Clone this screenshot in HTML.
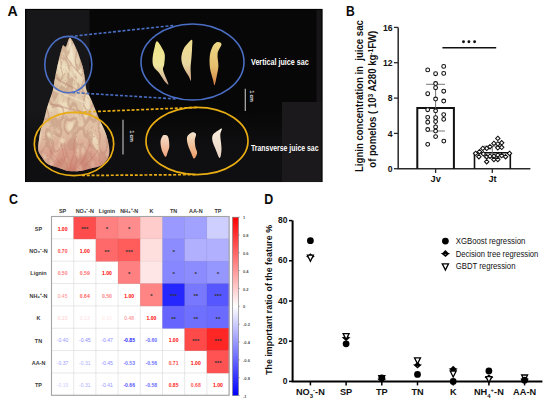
<!DOCTYPE html>
<html><head><meta charset="utf-8"><style>
html,body{margin:0;padding:0;background:#fff;width:550px;height:404px;overflow:hidden}
svg{display:block}
</style></head><body>
<svg width="550" height="404" viewBox="0 0 550 404">
<g id="A">
<defs><filter id="bl1" x="-20%" y="-20%" width="140%" height="140%"><feGaussianBlur stdDeviation="0.6"/></filter><filter id="bl2" x="-20%" y="-20%" width="140%" height="140%"><feGaussianBlur stdDeviation="1.2"/></filter><linearGradient id="pg" x1="0" y1="0" x2="0" y2="1"><stop offset="0" stop-color="#e8d6b6"/><stop offset="0.4" stop-color="#e0caac"/><stop offset="0.7" stop-color="#e0bea4"/><stop offset="1" stop-color="#d49888"/></linearGradient><linearGradient id="bgg" x1="0" y1="0" x2="0" y2="1"><stop offset="0" stop-color="#0f0f11" stop-opacity="0"/><stop offset="0.5" stop-color="#0f0f11" stop-opacity="1"/></linearGradient><clipPath id="pc"><path id="pp" d="M69.0,38.5 C69.9,37.3 70.2,37.6 71.5,39.5 C72.8,41.4 75.0,45.6 76.8,50.0 C78.6,54.4 80.9,60.8 82.3,65.6 C83.7,70.4 84.3,74.9 85.0,79.0 C85.7,83.1 85.4,86.5 86.5,90.0 C87.6,93.5 89.9,96.7 91.4,100.0 C92.9,103.3 94.1,106.7 95.5,110.0 C96.9,113.3 98.1,116.7 99.6,120.0 C101.1,123.3 103.2,126.7 104.5,130.0 C105.8,133.3 106.9,136.7 107.7,140.0 C108.5,143.3 109.4,147.0 109.4,150.0 C109.5,153.0 109.3,155.4 108.0,158.0 C106.7,160.6 104.3,163.8 101.4,165.5 C98.5,167.2 94.1,167.5 90.4,168.4 C86.8,169.3 83.1,170.6 79.5,171.0 C75.9,171.4 71.8,171.4 68.6,171.0 C65.4,170.6 63.9,169.5 60.5,168.4 C57.1,167.3 51.3,166.2 48.2,164.3 C45.1,162.5 43.7,159.7 42.0,157.3 C40.3,154.9 38.7,152.9 38.2,150.0 C37.7,147.1 38.6,143.3 39.0,140.0 C39.4,136.7 39.8,133.3 40.6,130.0 C41.4,126.7 42.9,123.3 43.9,120.0 C44.9,116.7 45.4,113.3 46.4,110.0 C47.4,106.7 48.5,103.3 49.6,100.0 C50.7,96.7 51.9,94.2 52.9,90.0 C53.9,85.8 54.6,79.7 55.6,74.5 C56.6,69.3 57.9,63.6 59.0,59.0 C60.1,54.4 61.5,49.0 62.3,46.7 C63.1,44.4 63.0,45.4 63.6,45.4 C64.2,45.4 65.1,47.6 66.0,46.5 C66.9,45.4 68.1,39.7 69.0,38.5 Z"/></clipPath></defs>
<clipPath id="photo"><rect x="25" y="8.8" width="297.6" height="173.4"/></clipPath>
<g clip-path="url(#photo)">
<rect x="25" y="8.8" width="297.6" height="173.4" fill="#070707"/>
<rect x="25" y="9" width="64.5" height="173" fill="#17171a"/>
<rect x="25" y="110" width="257" height="72" fill="url(#bgg)"/>
<rect x="282" y="102" width="40" height="80" fill="#1b191b"/>
<rect x="316.4" y="9" width="5.4" height="93" fill="#171517"/><path d="M25.7,9 V182 M25,9.3 H322.6 M322.1,9 V182" stroke="#020202" stroke-width="1.2" fill="none"/>
<path d="M69.0,38.5 C69.9,37.3 70.2,37.6 71.5,39.5 C72.8,41.4 75.0,45.6 76.8,50.0 C78.6,54.4 80.9,60.8 82.3,65.6 C83.7,70.4 84.3,74.9 85.0,79.0 C85.7,83.1 85.4,86.5 86.5,90.0 C87.6,93.5 89.9,96.7 91.4,100.0 C92.9,103.3 94.1,106.7 95.5,110.0 C96.9,113.3 98.1,116.7 99.6,120.0 C101.1,123.3 103.2,126.7 104.5,130.0 C105.8,133.3 106.9,136.7 107.7,140.0 C108.5,143.3 109.4,147.0 109.4,150.0 C109.5,153.0 109.3,155.4 108.0,158.0 C106.7,160.6 104.3,163.8 101.4,165.5 C98.5,167.2 94.1,167.5 90.4,168.4 C86.8,169.3 83.1,170.6 79.5,171.0 C75.9,171.4 71.8,171.4 68.6,171.0 C65.4,170.6 63.9,169.5 60.5,168.4 C57.1,167.3 51.3,166.2 48.2,164.3 C45.1,162.5 43.7,159.7 42.0,157.3 C40.3,154.9 38.7,152.9 38.2,150.0 C37.7,147.1 38.6,143.3 39.0,140.0 C39.4,136.7 39.8,133.3 40.6,130.0 C41.4,126.7 42.9,123.3 43.9,120.0 C44.9,116.7 45.4,113.3 46.4,110.0 C47.4,106.7 48.5,103.3 49.6,100.0 C50.7,96.7 51.9,94.2 52.9,90.0 C53.9,85.8 54.6,79.7 55.6,74.5 C56.6,69.3 57.9,63.6 59.0,59.0 C60.1,54.4 61.5,49.0 62.3,46.7 C63.1,44.4 63.0,45.4 63.6,45.4 C64.2,45.4 65.1,47.6 66.0,46.5 C66.9,45.4 68.1,39.7 69.0,38.5 Z" fill="url(#pg)"/>
<g clip-path="url(#pc)">
<defs><filter id="bl3" x="-10%" y="-10%" width="120%" height="120%"><feGaussianBlur stdDeviation="0.55"/></filter></defs>
<path d="M72,40 C80,60 88,90 100,120 L112,120 L112,30 Z" fill="#c09080" opacity="0.3" filter="url(#bl2)"/>
<defs><filter id="tex" x="30" y="30" width="90" height="150" filterUnits="userSpaceOnUse" color-interpolation-filters="sRGB"><feTurbulence type="turbulence" baseFrequency="0.13 0.075" numOctaves="1" seed="4" result="n"/><feColorMatrix in="n" type="matrix" values="0 0 0 0 0.70  0 0 0 0 0.50  0 0 0 0 0.42  -11 0 0 0 1.75" result="v"/><feGaussianBlur in="v" stdDeviation="0.45"/></filter><filter id="tex2" x="30" y="30" width="90" height="150" filterUnits="userSpaceOnUse" color-interpolation-filters="sRGB"><feTurbulence type="fractalNoise" baseFrequency="0.12 0.07" numOctaves="1" seed="9" result="n"/><feColorMatrix in="n" type="matrix" values="0 0 0 0 0.95  0 0 0 0 0.90  0 0 0 0 0.78  6 0 0 0 -3.0"/><feGaussianBlur stdDeviation="0.6"/></filter></defs>
<rect x="30" y="30" width="90" height="150" filter="url(#tex2)" opacity="0.7"/>
<rect x="30" y="30" width="90" height="150" filter="url(#tex)" opacity="0.38"/>
<defs><radialGradient id="rg" cx="72" cy="170" r="34" gradientUnits="userSpaceOnUse" gradientTransform="translate(72 170) scale(1.3 1) translate(-72 -170)"><stop offset="0" stop-color="#cc7868" stop-opacity="0.6"/><stop offset="0.6" stop-color="#d48a78" stop-opacity="0.35"/><stop offset="1" stop-color="#d89080" stop-opacity="0"/></radialGradient></defs>
<rect x="30" y="120" width="90" height="60" fill="url(#rg)"/>
<g filter="url(#bl3)" fill="none" stroke="#c06858" stroke-width="1.1" opacity="0.3"><path d="M76,136 C72,144 76,152 72,160 C70,164 71,168 70,171"/><path d="M60,142 C64,148 62,156 66,162 C67,165 68,168 69,170"/><path d="M90,144 C86,150 88,156 82,162 C80,165 77,168 74,170"/><path d="M50,150 C54,156 58,160 62,166"/><path d="M98,150 C94,156 90,162 84,166"/></g>
<g filter="url(#bl1)" fill="none" stroke-linecap="round"><path d="M70,42 C71,52 72,62 75,72" stroke="#f2e6cc" stroke-width="2.6" opacity="0.7"/><path d="M62,60 C66,68 70,74 78,82" stroke="#f0e2c6" stroke-width="2" opacity="0.6"/><path d="M66,56 C70,64 76,70 82,76" stroke="#b88070" stroke-width="1.4" opacity="0.45"/><path d="M56,78 C64,84 74,88 86,94" stroke="#b88070" stroke-width="1.6" opacity="0.45"/><path d="M54,90 C62,94 74,98 88,104" stroke="#f0e2c6" stroke-width="2.2" opacity="0.6"/><path d="M50,104 C60,106 72,110 92,114" stroke="#b88070" stroke-width="1.6" opacity="0.4"/></g>
<path d="M38,120 C36,140 38,160 50,170 L30,175 L30,110 Z" fill="#ecd0c0" opacity="0.35" filter="url(#bl2)"/>
</g>
<ellipse cx="68.3" cy="64.6" rx="23.5" ry="28.2" fill="none" stroke="#4a6ec4" stroke-width="1.6"/>
<ellipse cx="192.5" cy="62" rx="51.5" ry="38" fill="none" stroke="#4a6ec4" stroke-width="1.6"/>
<path d="M70,36.5 L173,25.5 M72,92.5 L176.7,99" stroke="#4a6ec4" stroke-width="1.6" stroke-dasharray="3,1.8" fill="none"/>
<defs><linearGradient id="v1" x1="0" y1="0" x2="0" y2="1"><stop offset="0" stop-color="#eee488"/><stop offset="0.55" stop-color="#f0e69c"/><stop offset="0.8" stop-color="#dcc49c"/><stop offset="1" stop-color="#c89a84"/></linearGradient><linearGradient id="v2" x1="0" y1="0" x2="0" y2="1"><stop offset="0" stop-color="#eedc8e"/><stop offset="0.6" stop-color="#e8d6a0"/><stop offset="1" stop-color="#d0a080"/></linearGradient><linearGradient id="v3" x1="0" y1="0" x2="0" y2="1"><stop offset="0" stop-color="#eed886"/><stop offset="0.55" stop-color="#e4c070"/><stop offset="0.8" stop-color="#dca058"/><stop offset="1" stop-color="#d07840"/></linearGradient><linearGradient id="t1" x1="0" y1="0" x2="0" y2="1"><stop offset="0" stop-color="#f6dcc8"/><stop offset="1" stop-color="#eea47c"/></linearGradient><linearGradient id="t2" x1="0" y1="0" x2="0" y2="1"><stop offset="0" stop-color="#f2e4cc"/><stop offset="1" stop-color="#ee9c68"/></linearGradient><linearGradient id="t3" x1="0" y1="0" x2="0" y2="1"><stop offset="0" stop-color="#f6eedc"/><stop offset="1" stop-color="#ecd4c4"/></linearGradient></defs>
<path d="M157.1,41.2 C158.4,41.5 161.2,46.6 162.5,48.9 C163.8,51.2 164.5,52.5 164.8,55.1 C165.1,57.7 164.5,61.8 164.2,64.4 C163.9,67.0 162.5,67.2 163.2,70.5 C163.9,73.8 168.1,82.1 168.4,83.9 C168.7,85.8 166.3,83.4 164.8,81.6 C163.3,79.8 161.1,75.6 159.2,73.1 C157.3,70.6 154.7,69.0 153.6,66.5 C152.5,64.0 152.4,61.4 152.6,58.2 C152.8,55.0 153.8,50.2 154.6,47.4 C155.3,44.6 155.8,41.0 157.1,41.2 Z" fill="url(#v1)"/>
<path d="M192.1,39.9 C192.7,40.7 192.2,44.3 192.1,47.4 C192.0,50.5 191.7,54.9 191.4,58.2 C191.2,61.6 190.7,63.8 190.6,67.5 C190.5,71.2 191.3,79.1 191.0,80.6 C190.7,82.1 190.2,78.9 189.0,76.7 C187.8,74.5 184.9,70.6 183.6,67.5 C182.3,64.4 181.3,61.3 181.3,58.2 C181.3,55.1 182.4,51.5 183.6,48.9 C184.8,46.3 186.9,44.2 188.3,42.7 C189.7,41.2 191.5,39.1 192.1,39.9 Z" fill="url(#v2)"/>
<path d="M217.6,42.0 C219.0,41.8 221.5,42.4 221.5,44.3 C221.5,46.2 218.1,49.9 217.6,53.5 C217.1,57.1 218.5,62.3 218.4,65.9 C218.3,69.5 217.5,72.0 216.9,75.2 C216.3,78.4 215.2,84.4 214.6,85.2 C213.9,86.0 213.8,82.8 213.0,79.8 C212.2,76.8 210.4,71.6 209.9,67.5 C209.4,63.4 209.4,58.7 209.9,55.1 C210.4,51.5 211.7,48.0 213.0,45.8 C214.3,43.6 216.2,42.2 217.6,42.0 Z" fill="url(#v3)"/>
<ellipse cx="74" cy="144" rx="39.7" ry="31.6" fill="none" stroke="#e8ac14" stroke-width="1.7"/>
<ellipse cx="197" cy="141" rx="51" ry="33.6" fill="none" stroke="#e8ac14" stroke-width="1.7"/>
<path d="M74,112.4 L197,107.4 M82,175.5 L197,174.6" stroke="#e8ac14" stroke-width="1.7" stroke-dasharray="3,1.8" fill="none"/>
<path d="M164.7,135.1 C165.7,135.2 167.4,135.1 168.2,137.0 C169.0,138.9 169.4,143.9 169.3,146.3 C169.2,148.8 168.4,149.9 167.8,151.7 C167.2,153.4 166.5,157.2 165.5,156.8 C164.5,156.4 162.4,151.9 161.6,149.4 C160.8,146.9 160.4,143.8 160.5,141.6 C160.6,139.4 161.7,137.3 162.4,136.2 C163.1,135.1 163.7,135.0 164.7,135.1 Z" fill="url(#t1)"/>
<path d="M191.7,132.4 C193.2,131.9 195.5,132.6 196.0,133.9 C196.5,135.2 194.9,137.7 194.8,140.0 C194.7,142.3 195.2,145.6 195.6,147.8 C196.0,150.0 197.4,151.4 197.1,153.2 C196.8,155.0 195.0,158.7 194.0,158.6 C193.0,158.5 192.0,154.8 191.0,152.5 C190.0,150.2 188.6,147.3 187.9,144.7 C187.2,142.1 186.5,139.1 187.1,137.0 C187.7,134.9 190.2,132.9 191.7,132.4 Z" fill="url(#t2)"/>
<path d="M221.9,128.5 C222.5,129.0 220.4,132.2 220.3,134.7 C220.2,137.1 220.9,140.5 221.1,143.2 C221.3,145.9 221.7,148.4 221.4,150.9 C221.2,153.4 220.6,158.2 219.6,157.9 C218.6,157.7 216.9,152.1 215.7,149.4 C214.5,146.7 213.1,143.9 212.6,141.6 C212.1,139.3 211.9,137.2 212.6,135.5 C213.2,133.8 214.9,132.8 216.5,131.6 C218.1,130.4 221.3,128.0 221.9,128.5 Z" fill="url(#t3)"/>
<line x1="123" y1="119.8" x2="123" y2="154.6" stroke="#b4b4b4" stroke-width="1.2"/>
<line x1="245.3" y1="88.7" x2="245.3" y2="111" stroke="#b4b4b4" stroke-width="1.2"/>
<text transform="translate(129.6,130.4) rotate(90)" font-size="5" fill="#e0e0e0" font-weight="bold" style="font-family:'Liberation Sans',sans-serif">1 cm</text>
<text transform="translate(250.4,90.4) rotate(90)" font-size="5" fill="#e0e0e0" font-weight="bold" style="font-family:'Liberation Sans',sans-serif">1 cm</text>
<text x="251" y="65" font-size="9.4" fill="#fff" font-weight="bold" textLength="57.7" lengthAdjust="spacingAndGlyphs" style="font-family:'Liberation Sans',sans-serif">Vertical juice sac</text>
<text x="251" y="150.8" font-size="9.4" fill="#fff" font-weight="bold" textLength="67.5" lengthAdjust="spacingAndGlyphs" style="font-family:'Liberation Sans',sans-serif">Transverse juice sac</text>
</g>
</g>
<g id="B">
<path d="M398.2,27.5 V168.7 H530.4" fill="none" stroke="#2a2a2a" stroke-width="1.5"/>
<line x1="393.9" y1="168.7" x2="398.2" y2="168.7" stroke="#2a2a2a" stroke-width="1.3"/>
<text transform="translate(392.6,171.95) scale(0.92,1)" font-size="9.4" font-weight="bold" text-anchor="end" fill="#111" style="font-family:'Liberation Sans',sans-serif">0</text>
<line x1="393.9" y1="133.4" x2="398.2" y2="133.4" stroke="#2a2a2a" stroke-width="1.3"/>
<text transform="translate(392.6,136.63) scale(0.92,1)" font-size="9.4" font-weight="bold" text-anchor="end" fill="#111" style="font-family:'Liberation Sans',sans-serif">4</text>
<line x1="393.9" y1="98.1" x2="398.2" y2="98.1" stroke="#2a2a2a" stroke-width="1.3"/>
<text transform="translate(392.6,101.31) scale(0.92,1)" font-size="9.4" font-weight="bold" text-anchor="end" fill="#111" style="font-family:'Liberation Sans',sans-serif">8</text>
<line x1="393.9" y1="62.7" x2="398.2" y2="62.7" stroke="#2a2a2a" stroke-width="1.3"/>
<text transform="translate(392.6,65.99) scale(0.92,1)" font-size="9.4" font-weight="bold" text-anchor="end" fill="#111" style="font-family:'Liberation Sans',sans-serif">12</text>
<line x1="393.9" y1="27.4" x2="398.2" y2="27.4" stroke="#2a2a2a" stroke-width="1.3"/>
<text transform="translate(392.6,30.67) scale(0.92,1)" font-size="9.4" font-weight="bold" text-anchor="end" fill="#111" style="font-family:'Liberation Sans',sans-serif">16</text>
<line x1="435.6" y1="168.7" x2="435.6" y2="173" stroke="#2a2a2a" stroke-width="1.3"/>
<line x1="492.3" y1="168.7" x2="492.3" y2="173" stroke="#2a2a2a" stroke-width="1.3"/>
<text x="435.7" y="182.3" font-size="9.2" font-weight="bold" text-anchor="middle" fill="#111" style="font-family:'Liberation Sans',sans-serif">Jv</text>
<text x="492.5" y="182.3" font-size="9.2" font-weight="bold" text-anchor="middle" fill="#111" style="font-family:'Liberation Sans',sans-serif">Jt</text>
<path d="M417.3,168.7 V107.9 H453.9 V168.7" fill="none" stroke="#111" stroke-width="2"/>
<path d="M474.5,168.7 V152.8 H510.3 V168.7" fill="none" stroke="#111" stroke-width="1.6"/>
<path d="M435.6,84.3 V131 M426.1,84.3 H445 M426.1,131 H445" stroke="#666" stroke-width="0.9" fill="none"/>
<path d="M492.3,146.2 V157.8 M484,146.2 H500.5 M484,157.8 H500.5" stroke="#666" stroke-width="0.9" fill="none"/>
<circle cx="427.7" cy="69.9" r="1.9" fill="#fff" stroke="#111" stroke-width="1.05"/>
<circle cx="443.7" cy="66.4" r="1.9" fill="#fff" stroke="#111" stroke-width="1.05"/>
<circle cx="435.6" cy="73.7" r="1.9" fill="#fff" stroke="#111" stroke-width="1.05"/>
<circle cx="443.7" cy="73.4" r="1.9" fill="#fff" stroke="#111" stroke-width="1.05"/>
<circle cx="435.6" cy="83.5" r="1.9" fill="#fff" stroke="#111" stroke-width="1.05"/>
<circle cx="435.6" cy="87.7" r="1.9" fill="#fff" stroke="#111" stroke-width="1.05"/>
<circle cx="427.7" cy="93.7" r="1.9" fill="#fff" stroke="#111" stroke-width="1.05"/>
<circle cx="443.7" cy="91.2" r="1.9" fill="#fff" stroke="#111" stroke-width="1.05"/>
<circle cx="435.6" cy="99.0" r="1.9" fill="#fff" stroke="#111" stroke-width="1.05"/>
<circle cx="443.7" cy="101.0" r="1.9" fill="#fff" stroke="#111" stroke-width="1.05"/>
<circle cx="427.7" cy="109.7" r="1.9" fill="#fff" stroke="#111" stroke-width="1.05"/>
<circle cx="435.6" cy="110.8" r="1.9" fill="#fff" stroke="#111" stroke-width="1.05"/>
<circle cx="443.7" cy="114.6" r="1.9" fill="#fff" stroke="#111" stroke-width="1.05"/>
<circle cx="443.7" cy="119.3" r="1.9" fill="#fff" stroke="#111" stroke-width="1.05"/>
<circle cx="427.7" cy="117.3" r="1.9" fill="#fff" stroke="#111" stroke-width="1.05"/>
<circle cx="427.7" cy="122.2" r="1.9" fill="#fff" stroke="#111" stroke-width="1.05"/>
<circle cx="435.6" cy="117.6" r="1.9" fill="#fff" stroke="#111" stroke-width="1.05"/>
<circle cx="435.6" cy="121.5" r="1.9" fill="#fff" stroke="#111" stroke-width="1.05"/>
<circle cx="435.6" cy="126.9" r="1.9" fill="#fff" stroke="#111" stroke-width="1.05"/>
<circle cx="427.7" cy="129.5" r="1.9" fill="#fff" stroke="#111" stroke-width="1.05"/>
<circle cx="435.6" cy="131.1" r="1.9" fill="#fff" stroke="#111" stroke-width="1.05"/>
<circle cx="435.6" cy="136.6" r="1.9" fill="#fff" stroke="#111" stroke-width="1.05"/>
<circle cx="443.8" cy="141.1" r="1.9" fill="#fff" stroke="#111" stroke-width="1.05"/>
<circle cx="427.7" cy="144.3" r="1.9" fill="#fff" stroke="#111" stroke-width="1.05"/>
<path d="M497.8,136.2 L500.0,138.4 L497.8,140.6 L495.6,138.4 Z" fill="#fff" stroke="#111" stroke-width="1.05"/>
<path d="M493.9,141.2 L496.1,143.4 L493.9,145.6 L491.7,143.4 Z" fill="#fff" stroke="#111" stroke-width="1.05"/>
<path d="M497.8,141.7 L500.0,143.9 L497.8,146.1 L495.6,143.9 Z" fill="#fff" stroke="#111" stroke-width="1.05"/>
<path d="M501.7,140.6 L503.9,142.8 L501.7,145.0 L499.5,142.8 Z" fill="#fff" stroke="#111" stroke-width="1.05"/>
<path d="M490,144.5 L492.2,146.7 L490,148.9 L487.8,146.7 Z" fill="#fff" stroke="#111" stroke-width="1.05"/>
<path d="M486.7,146.2 L488.9,148.4 L486.7,150.6 L484.5,148.4 Z" fill="#fff" stroke="#111" stroke-width="1.05"/>
<path d="M482.8,146.2 L485.0,148.4 L482.8,150.6 L480.6,148.4 Z" fill="#fff" stroke="#111" stroke-width="1.05"/>
<path d="M497.8,145.6 L500.0,147.8 L497.8,150.0 L495.6,147.8 Z" fill="#fff" stroke="#111" stroke-width="1.05"/>
<path d="M501.7,145.1 L503.9,147.3 L501.7,149.5 L499.5,147.3 Z" fill="#fff" stroke="#111" stroke-width="1.05"/>
<path d="M475.6,151.2 L477.8,153.4 L475.6,155.6 L473.4,153.4 Z" fill="#fff" stroke="#111" stroke-width="1.05"/>
<path d="M479.5,149.5 L481.7,151.7 L479.5,153.9 L477.3,151.7 Z" fill="#fff" stroke="#111" stroke-width="1.05"/>
<path d="M478.9,154.5 L481.1,156.7 L478.9,158.9 L476.7,156.7 Z" fill="#fff" stroke="#111" stroke-width="1.05"/>
<path d="M483.4,151.7 L485.6,153.9 L483.4,156.1 L481.2,153.9 Z" fill="#fff" stroke="#111" stroke-width="1.05"/>
<path d="M486.7,154.5 L488.9,156.7 L486.7,158.9 L484.5,156.7 Z" fill="#fff" stroke="#111" stroke-width="1.05"/>
<path d="M490,154.0 L492.2,156.2 L490,158.4 L487.8,156.2 Z" fill="#fff" stroke="#111" stroke-width="1.05"/>
<path d="M493.9,154.0 L496.1,156.2 L493.9,158.4 L491.7,156.2 Z" fill="#fff" stroke="#111" stroke-width="1.05"/>
<path d="M497.8,152.8 L500.0,155 L497.8,157.2 L495.6,155 Z" fill="#fff" stroke="#111" stroke-width="1.05"/>
<path d="M501.7,153.4 L503.9,155.6 L501.7,157.8 L499.5,155.6 Z" fill="#fff" stroke="#111" stroke-width="1.05"/>
<path d="M505.6,154.5 L507.8,156.7 L505.6,158.9 L503.4,156.7 Z" fill="#fff" stroke="#111" stroke-width="1.05"/>
<path d="M509.5,151.2 L511.7,153.4 L509.5,155.6 L507.3,153.4 Z" fill="#fff" stroke="#111" stroke-width="1.05"/>
<path d="M486.7,159.5 L488.9,161.7 L486.7,163.9 L484.5,161.7 Z" fill="#fff" stroke="#111" stroke-width="1.05"/>
<path d="M493.9,157.3 L496.1,159.5 L493.9,161.7 L491.7,159.5 Z" fill="#fff" stroke="#111" stroke-width="1.05"/>
<path d="M497.8,157.3 L500.0,159.5 L497.8,161.7 L495.6,159.5 Z" fill="#fff" stroke="#111" stroke-width="1.05"/>
<line x1="442.4" y1="47.7" x2="496.2" y2="47.7" stroke="#111" stroke-width="1.4"/>
<circle cx="463.5" cy="41.8" r="1.45" fill="#111"/>
<circle cx="468.9" cy="41.8" r="1.45" fill="#111"/>
<circle cx="474.6" cy="41.8" r="1.45" fill="#111"/>
<text xml:space="preserve" transform="translate(363.4,96.1) rotate(-90) scale(1,1.05)" font-size="9.6" font-weight="bold" text-anchor="middle" fill="#111" style="font-family:'Liberation Sans',sans-serif">Lignin concentration in  juice sac</text>
<text xml:space="preserve" transform="translate(376.2,99.2) rotate(-90) scale(1,1.05)" font-size="9.6" font-weight="bold" text-anchor="middle" fill="#111" style="font-family:'Liberation Sans',sans-serif">of pomelos ( 10<tspan font-size="6.6" dy="-3.4">3</tspan><tspan dy="3.4"> A280 kg</tspan><tspan font-size="6.6" dy="-3.4">-1</tspan><tspan dy="3.4">FW)</tspan></text>
</g>
<g id="C">
<rect x="73.70" y="216.50" width="22.50" height="22.65" fill="rgb(255,77,77)"/>
<rect x="95.90" y="216.50" width="22.50" height="22.65" fill="rgb(255,128,128)"/>
<rect x="118.10" y="216.50" width="22.50" height="22.65" fill="rgb(255,140,140)"/>
<rect x="140.30" y="216.50" width="22.50" height="22.65" fill="rgb(255,204,204)"/>
<rect x="162.50" y="216.50" width="22.50" height="22.65" fill="rgb(153,153,255)"/>
<rect x="184.70" y="216.50" width="22.50" height="22.65" fill="rgb(161,161,255)"/>
<rect x="206.90" y="216.50" width="22.50" height="22.65" fill="rgb(207,207,255)"/>
<rect x="95.90" y="238.85" width="22.50" height="22.65" fill="rgb(255,105,105)"/>
<rect x="118.10" y="238.85" width="22.50" height="22.65" fill="rgb(255,92,92)"/>
<rect x="140.30" y="238.85" width="22.50" height="22.65" fill="rgb(255,222,222)"/>
<rect x="162.50" y="238.85" width="22.50" height="22.65" fill="rgb(140,140,255)"/>
<rect x="184.70" y="238.85" width="22.50" height="22.65" fill="rgb(176,176,255)"/>
<rect x="206.90" y="238.85" width="22.50" height="22.65" fill="rgb(176,176,255)"/>
<rect x="118.10" y="261.20" width="22.50" height="22.65" fill="rgb(255,128,128)"/>
<rect x="140.30" y="261.20" width="22.50" height="22.65" fill="rgb(255,230,230)"/>
<rect x="162.50" y="261.20" width="22.50" height="22.65" fill="rgb(135,135,255)"/>
<rect x="184.70" y="261.20" width="22.50" height="22.65" fill="rgb(140,140,255)"/>
<rect x="206.90" y="261.20" width="22.50" height="22.65" fill="rgb(150,150,255)"/>
<rect x="140.30" y="283.55" width="22.50" height="22.65" fill="rgb(255,133,133)"/>
<rect x="162.50" y="283.55" width="22.50" height="22.65" fill="rgb(38,38,255)"/>
<rect x="184.70" y="283.55" width="22.50" height="22.65" fill="rgb(120,120,255)"/>
<rect x="206.90" y="283.55" width="22.50" height="22.65" fill="rgb(87,87,255)"/>
<rect x="162.50" y="305.90" width="22.50" height="22.65" fill="rgb(102,102,255)"/>
<rect x="184.70" y="305.90" width="22.50" height="22.65" fill="rgb(112,112,255)"/>
<rect x="206.90" y="305.90" width="22.50" height="22.65" fill="rgb(107,107,255)"/>
<rect x="184.70" y="328.25" width="22.50" height="22.65" fill="rgb(255,74,74)"/>
<rect x="206.90" y="328.25" width="22.50" height="22.65" fill="rgb(255,38,38)"/>
<rect x="206.90" y="350.60" width="22.50" height="22.65" fill="rgb(255,82,82)"/>
<line x1="51.50" y1="216.5" x2="51.50" y2="395.3" stroke="#d8d8d8" stroke-width="0.6"/>
<line x1="51.5" y1="216.50" x2="229.1" y2="216.50" stroke="#d8d8d8" stroke-width="0.6"/>
<line x1="73.70" y1="216.5" x2="73.70" y2="395.3" stroke="#d8d8d8" stroke-width="0.6"/>
<line x1="51.5" y1="238.85" x2="229.1" y2="238.85" stroke="#d8d8d8" stroke-width="0.6"/>
<line x1="95.90" y1="216.5" x2="95.90" y2="395.3" stroke="#d8d8d8" stroke-width="0.6"/>
<line x1="51.5" y1="261.20" x2="229.1" y2="261.20" stroke="#d8d8d8" stroke-width="0.6"/>
<line x1="118.10" y1="216.5" x2="118.10" y2="395.3" stroke="#d8d8d8" stroke-width="0.6"/>
<line x1="51.5" y1="283.55" x2="229.1" y2="283.55" stroke="#d8d8d8" stroke-width="0.6"/>
<line x1="140.30" y1="216.5" x2="140.30" y2="395.3" stroke="#d8d8d8" stroke-width="0.6"/>
<line x1="51.5" y1="305.90" x2="229.1" y2="305.90" stroke="#d8d8d8" stroke-width="0.6"/>
<line x1="162.50" y1="216.5" x2="162.50" y2="395.3" stroke="#d8d8d8" stroke-width="0.6"/>
<line x1="51.5" y1="328.25" x2="229.1" y2="328.25" stroke="#d8d8d8" stroke-width="0.6"/>
<line x1="184.70" y1="216.5" x2="184.70" y2="395.3" stroke="#d8d8d8" stroke-width="0.6"/>
<line x1="51.5" y1="350.60" x2="229.1" y2="350.60" stroke="#d8d8d8" stroke-width="0.6"/>
<line x1="206.90" y1="216.5" x2="206.90" y2="395.3" stroke="#d8d8d8" stroke-width="0.6"/>
<line x1="51.5" y1="372.95" x2="229.1" y2="372.95" stroke="#d8d8d8" stroke-width="0.6"/>
<line x1="229.10" y1="216.5" x2="229.10" y2="395.3" stroke="#d8d8d8" stroke-width="0.6"/>
<line x1="51.5" y1="395.30" x2="229.1" y2="395.30" stroke="#d8d8d8" stroke-width="0.6"/>
<rect x="73.70" y="216.50" width="22.20" height="22.35" fill="rgb(255,77,77)" stroke="#000" stroke-opacity="0.06" stroke-width="0.6"/>
<rect x="95.90" y="216.50" width="22.20" height="22.35" fill="rgb(255,128,128)" stroke="#000" stroke-opacity="0.06" stroke-width="0.6"/>
<rect x="118.10" y="216.50" width="22.20" height="22.35" fill="rgb(255,140,140)" stroke="#000" stroke-opacity="0.06" stroke-width="0.6"/>
<rect x="140.30" y="216.50" width="22.20" height="22.35" fill="rgb(255,204,204)" stroke="#000" stroke-opacity="0.06" stroke-width="0.6"/>
<rect x="162.50" y="216.50" width="22.20" height="22.35" fill="rgb(153,153,255)" stroke="#000" stroke-opacity="0.06" stroke-width="0.6"/>
<rect x="184.70" y="216.50" width="22.20" height="22.35" fill="rgb(161,161,255)" stroke="#000" stroke-opacity="0.06" stroke-width="0.6"/>
<rect x="206.90" y="216.50" width="22.20" height="22.35" fill="rgb(207,207,255)" stroke="#000" stroke-opacity="0.06" stroke-width="0.6"/>
<rect x="95.90" y="238.85" width="22.20" height="22.35" fill="rgb(255,105,105)" stroke="#000" stroke-opacity="0.06" stroke-width="0.6"/>
<rect x="118.10" y="238.85" width="22.20" height="22.35" fill="rgb(255,92,92)" stroke="#000" stroke-opacity="0.06" stroke-width="0.6"/>
<rect x="140.30" y="238.85" width="22.20" height="22.35" fill="rgb(255,222,222)" stroke="#000" stroke-opacity="0.06" stroke-width="0.6"/>
<rect x="162.50" y="238.85" width="22.20" height="22.35" fill="rgb(140,140,255)" stroke="#000" stroke-opacity="0.06" stroke-width="0.6"/>
<rect x="184.70" y="238.85" width="22.20" height="22.35" fill="rgb(176,176,255)" stroke="#000" stroke-opacity="0.06" stroke-width="0.6"/>
<rect x="206.90" y="238.85" width="22.20" height="22.35" fill="rgb(176,176,255)" stroke="#000" stroke-opacity="0.06" stroke-width="0.6"/>
<rect x="118.10" y="261.20" width="22.20" height="22.35" fill="rgb(255,128,128)" stroke="#000" stroke-opacity="0.06" stroke-width="0.6"/>
<rect x="140.30" y="261.20" width="22.20" height="22.35" fill="rgb(255,230,230)" stroke="#000" stroke-opacity="0.06" stroke-width="0.6"/>
<rect x="162.50" y="261.20" width="22.20" height="22.35" fill="rgb(135,135,255)" stroke="#000" stroke-opacity="0.06" stroke-width="0.6"/>
<rect x="184.70" y="261.20" width="22.20" height="22.35" fill="rgb(140,140,255)" stroke="#000" stroke-opacity="0.06" stroke-width="0.6"/>
<rect x="206.90" y="261.20" width="22.20" height="22.35" fill="rgb(150,150,255)" stroke="#000" stroke-opacity="0.06" stroke-width="0.6"/>
<rect x="140.30" y="283.55" width="22.20" height="22.35" fill="rgb(255,133,133)" stroke="#000" stroke-opacity="0.06" stroke-width="0.6"/>
<rect x="162.50" y="283.55" width="22.20" height="22.35" fill="rgb(38,38,255)" stroke="#000" stroke-opacity="0.06" stroke-width="0.6"/>
<rect x="184.70" y="283.55" width="22.20" height="22.35" fill="rgb(120,120,255)" stroke="#000" stroke-opacity="0.06" stroke-width="0.6"/>
<rect x="206.90" y="283.55" width="22.20" height="22.35" fill="rgb(87,87,255)" stroke="#000" stroke-opacity="0.06" stroke-width="0.6"/>
<rect x="162.50" y="305.90" width="22.20" height="22.35" fill="rgb(102,102,255)" stroke="#000" stroke-opacity="0.06" stroke-width="0.6"/>
<rect x="184.70" y="305.90" width="22.20" height="22.35" fill="rgb(112,112,255)" stroke="#000" stroke-opacity="0.06" stroke-width="0.6"/>
<rect x="206.90" y="305.90" width="22.20" height="22.35" fill="rgb(107,107,255)" stroke="#000" stroke-opacity="0.06" stroke-width="0.6"/>
<rect x="184.70" y="328.25" width="22.20" height="22.35" fill="rgb(255,74,74)" stroke="#000" stroke-opacity="0.06" stroke-width="0.6"/>
<rect x="206.90" y="328.25" width="22.20" height="22.35" fill="rgb(255,38,38)" stroke="#000" stroke-opacity="0.06" stroke-width="0.6"/>
<rect x="206.90" y="350.60" width="22.20" height="22.35" fill="rgb(255,82,82)" stroke="#000" stroke-opacity="0.06" stroke-width="0.6"/>
<rect x="51.5" y="216.5" width="177.6" height="178.8" fill="none" stroke="#a4a4a4" stroke-width="1.1"/>
<text x="62.60" y="230.58" font-size="5.1" font-weight="bold" text-anchor="middle" fill="#ff0000" style="font-family:'Liberation Sans',sans-serif">1.00</text>
<text x="84.80" y="231.28" font-size="6.2" font-weight="bold" text-anchor="middle" fill="#333" style="font-family:'Liberation Sans',sans-serif">***</text>
<text x="107.00" y="231.28" font-size="6.2" font-weight="bold" text-anchor="middle" fill="#333" style="font-family:'Liberation Sans',sans-serif">*</text>
<text x="129.20" y="231.28" font-size="6.2" font-weight="bold" text-anchor="middle" fill="#333" style="font-family:'Liberation Sans',sans-serif">*</text>
<text x="62.60" y="252.93" font-size="5.1" font-weight="bold" text-anchor="middle" fill="rgb(255,77,77)" style="font-family:'Liberation Sans',sans-serif">0.70</text>
<text x="84.80" y="252.93" font-size="5.1" font-weight="bold" text-anchor="middle" fill="#ff0000" style="font-family:'Liberation Sans',sans-serif">1.00</text>
<text x="107.00" y="253.62" font-size="6.2" font-weight="bold" text-anchor="middle" fill="#333" style="font-family:'Liberation Sans',sans-serif">**</text>
<text x="129.20" y="253.62" font-size="6.2" font-weight="bold" text-anchor="middle" fill="#333" style="font-family:'Liberation Sans',sans-serif">***</text>
<text x="173.60" y="253.62" font-size="6.2" font-weight="bold" text-anchor="middle" fill="#333" style="font-family:'Liberation Sans',sans-serif">*</text>
<text x="62.60" y="275.27" font-size="5.1" font-weight="bold" text-anchor="middle" fill="rgb(255,128,128)" style="font-family:'Liberation Sans',sans-serif">0.50</text>
<text x="84.80" y="275.27" font-size="5.1" font-weight="bold" text-anchor="middle" fill="rgb(255,105,105)" style="font-family:'Liberation Sans',sans-serif">0.59</text>
<text x="107.00" y="275.27" font-size="5.1" font-weight="bold" text-anchor="middle" fill="#ff0000" style="font-family:'Liberation Sans',sans-serif">1.00</text>
<text x="129.20" y="275.98" font-size="6.2" font-weight="bold" text-anchor="middle" fill="#333" style="font-family:'Liberation Sans',sans-serif">*</text>
<text x="173.60" y="275.98" font-size="6.2" font-weight="bold" text-anchor="middle" fill="#333" style="font-family:'Liberation Sans',sans-serif">*</text>
<text x="195.80" y="275.98" font-size="6.2" font-weight="bold" text-anchor="middle" fill="#333" style="font-family:'Liberation Sans',sans-serif">*</text>
<text x="218.00" y="275.98" font-size="6.2" font-weight="bold" text-anchor="middle" fill="#333" style="font-family:'Liberation Sans',sans-serif">*</text>
<text x="62.60" y="297.62" font-size="5.1" font-weight="normal" text-anchor="middle" fill="rgb(255,140,140)" style="font-family:'Liberation Sans',sans-serif">0.45</text>
<text x="84.80" y="297.62" font-size="5.1" font-weight="bold" text-anchor="middle" fill="rgb(255,92,92)" style="font-family:'Liberation Sans',sans-serif">0.64</text>
<text x="107.00" y="297.62" font-size="5.1" font-weight="bold" text-anchor="middle" fill="rgb(255,128,128)" style="font-family:'Liberation Sans',sans-serif">0.50</text>
<text x="129.20" y="297.62" font-size="5.1" font-weight="bold" text-anchor="middle" fill="#ff0000" style="font-family:'Liberation Sans',sans-serif">1.00</text>
<text x="151.40" y="298.33" font-size="6.2" font-weight="bold" text-anchor="middle" fill="#333" style="font-family:'Liberation Sans',sans-serif">*</text>
<text x="173.60" y="298.33" font-size="6.2" font-weight="bold" text-anchor="middle" fill="#333" style="font-family:'Liberation Sans',sans-serif">***</text>
<text x="195.80" y="298.33" font-size="6.2" font-weight="bold" text-anchor="middle" fill="#333" style="font-family:'Liberation Sans',sans-serif">**</text>
<text x="218.00" y="298.33" font-size="6.2" font-weight="bold" text-anchor="middle" fill="#333" style="font-family:'Liberation Sans',sans-serif">***</text>
<text x="62.60" y="319.97" font-size="5.1" font-weight="normal" text-anchor="middle" fill="rgb(255,204,204)" style="font-family:'Liberation Sans',sans-serif">0.20</text>
<text x="84.80" y="319.97" font-size="5.1" font-weight="normal" text-anchor="middle" fill="rgb(255,222,222)" style="font-family:'Liberation Sans',sans-serif">0.13</text>
<text x="107.00" y="319.97" font-size="5.1" font-weight="normal" text-anchor="middle" fill="rgb(255,230,230)" style="font-family:'Liberation Sans',sans-serif">0.10</text>
<text x="129.20" y="319.97" font-size="5.1" font-weight="normal" text-anchor="middle" fill="rgb(255,133,133)" style="font-family:'Liberation Sans',sans-serif">0.48</text>
<text x="151.40" y="319.97" font-size="5.1" font-weight="bold" text-anchor="middle" fill="#ff0000" style="font-family:'Liberation Sans',sans-serif">1.00</text>
<text x="173.60" y="320.68" font-size="6.2" font-weight="bold" text-anchor="middle" fill="#333" style="font-family:'Liberation Sans',sans-serif">**</text>
<text x="195.80" y="320.68" font-size="6.2" font-weight="bold" text-anchor="middle" fill="#333" style="font-family:'Liberation Sans',sans-serif">**</text>
<text x="218.00" y="320.68" font-size="6.2" font-weight="bold" text-anchor="middle" fill="#333" style="font-family:'Liberation Sans',sans-serif">**</text>
<text x="62.60" y="342.32" font-size="5.1" font-weight="normal" text-anchor="middle" fill="rgb(153,153,255)" style="font-family:'Liberation Sans',sans-serif">-0.40</text>
<text x="84.80" y="342.32" font-size="5.1" font-weight="normal" text-anchor="middle" fill="rgb(140,140,255)" style="font-family:'Liberation Sans',sans-serif">-0.45</text>
<text x="107.00" y="342.32" font-size="5.1" font-weight="normal" text-anchor="middle" fill="rgb(135,135,255)" style="font-family:'Liberation Sans',sans-serif">-0.47</text>
<text x="129.20" y="342.32" font-size="5.1" font-weight="bold" text-anchor="middle" fill="rgb(38,38,255)" style="font-family:'Liberation Sans',sans-serif">-0.85</text>
<text x="151.40" y="342.32" font-size="5.1" font-weight="bold" text-anchor="middle" fill="rgb(102,102,255)" style="font-family:'Liberation Sans',sans-serif">-0.60</text>
<text x="173.60" y="342.32" font-size="5.1" font-weight="bold" text-anchor="middle" fill="#ff0000" style="font-family:'Liberation Sans',sans-serif">1.00</text>
<text x="195.80" y="343.03" font-size="6.2" font-weight="bold" text-anchor="middle" fill="#333" style="font-family:'Liberation Sans',sans-serif">***</text>
<text x="218.00" y="343.03" font-size="6.2" font-weight="bold" text-anchor="middle" fill="#333" style="font-family:'Liberation Sans',sans-serif">***</text>
<text x="62.60" y="364.67" font-size="5.1" font-weight="normal" text-anchor="middle" fill="rgb(161,161,255)" style="font-family:'Liberation Sans',sans-serif">-0.37</text>
<text x="84.80" y="364.67" font-size="5.1" font-weight="normal" text-anchor="middle" fill="rgb(176,176,255)" style="font-family:'Liberation Sans',sans-serif">-0.31</text>
<text x="107.00" y="364.67" font-size="5.1" font-weight="normal" text-anchor="middle" fill="rgb(140,140,255)" style="font-family:'Liberation Sans',sans-serif">-0.45</text>
<text x="129.20" y="364.67" font-size="5.1" font-weight="bold" text-anchor="middle" fill="rgb(120,120,255)" style="font-family:'Liberation Sans',sans-serif">-0.53</text>
<text x="151.40" y="364.67" font-size="5.1" font-weight="bold" text-anchor="middle" fill="rgb(112,112,255)" style="font-family:'Liberation Sans',sans-serif">-0.56</text>
<text x="173.60" y="364.67" font-size="5.1" font-weight="bold" text-anchor="middle" fill="rgb(255,74,74)" style="font-family:'Liberation Sans',sans-serif">0.71</text>
<text x="195.80" y="364.67" font-size="5.1" font-weight="bold" text-anchor="middle" fill="#ff0000" style="font-family:'Liberation Sans',sans-serif">1.00</text>
<text x="218.00" y="365.38" font-size="6.2" font-weight="bold" text-anchor="middle" fill="#333" style="font-family:'Liberation Sans',sans-serif">***</text>
<text x="62.60" y="387.02" font-size="5.1" font-weight="normal" text-anchor="middle" fill="rgb(207,207,255)" style="font-family:'Liberation Sans',sans-serif">-0.19</text>
<text x="84.80" y="387.02" font-size="5.1" font-weight="normal" text-anchor="middle" fill="rgb(176,176,255)" style="font-family:'Liberation Sans',sans-serif">-0.31</text>
<text x="107.00" y="387.02" font-size="5.1" font-weight="normal" text-anchor="middle" fill="rgb(150,150,255)" style="font-family:'Liberation Sans',sans-serif">-0.41</text>
<text x="129.20" y="387.02" font-size="5.1" font-weight="bold" text-anchor="middle" fill="rgb(87,87,255)" style="font-family:'Liberation Sans',sans-serif">-0.66</text>
<text x="151.40" y="387.02" font-size="5.1" font-weight="bold" text-anchor="middle" fill="rgb(107,107,255)" style="font-family:'Liberation Sans',sans-serif">-0.58</text>
<text x="173.60" y="387.02" font-size="5.1" font-weight="bold" text-anchor="middle" fill="rgb(255,38,38)" style="font-family:'Liberation Sans',sans-serif">0.85</text>
<text x="195.80" y="387.02" font-size="5.1" font-weight="bold" text-anchor="middle" fill="rgb(255,82,82)" style="font-family:'Liberation Sans',sans-serif">0.68</text>
<text x="218.00" y="387.02" font-size="5.1" font-weight="bold" text-anchor="middle" fill="#ff0000" style="font-family:'Liberation Sans',sans-serif">1.00</text>
<text transform="translate(62.60,213.4) scale(0.88,1)" font-size="6.2" font-weight="bold" text-anchor="middle" fill="#3a3a3a" style="font-family:'Liberation Sans',sans-serif">SP</text>
<text transform="translate(84.80,213.4) scale(0.88,1)" font-size="6.2" font-weight="bold" text-anchor="middle" fill="#3a3a3a" style="font-family:'Liberation Sans',sans-serif">NO₃⁻-N</text>
<text transform="translate(107.00,213.4) scale(0.88,1)" font-size="6.2" font-weight="bold" text-anchor="middle" fill="#3a3a3a" style="font-family:'Liberation Sans',sans-serif">Lignin</text>
<text transform="translate(129.20,213.4) scale(0.88,1)" font-size="6.2" font-weight="bold" text-anchor="middle" fill="#3a3a3a" style="font-family:'Liberation Sans',sans-serif">NH₄⁺-N</text>
<text transform="translate(151.40,213.4) scale(0.88,1)" font-size="6.2" font-weight="bold" text-anchor="middle" fill="#3a3a3a" style="font-family:'Liberation Sans',sans-serif">K</text>
<text transform="translate(173.60,213.4) scale(0.88,1)" font-size="6.2" font-weight="bold" text-anchor="middle" fill="#3a3a3a" style="font-family:'Liberation Sans',sans-serif">TN</text>
<text transform="translate(195.80,213.4) scale(0.88,1)" font-size="6.2" font-weight="bold" text-anchor="middle" fill="#3a3a3a" style="font-family:'Liberation Sans',sans-serif">AA-N</text>
<text transform="translate(218.00,213.4) scale(0.88,1)" font-size="6.2" font-weight="bold" text-anchor="middle" fill="#3a3a3a" style="font-family:'Liberation Sans',sans-serif">TP</text>
<text transform="translate(38.5,230.78) scale(0.88,1)" font-size="6.2" font-weight="bold" text-anchor="middle" fill="#3a3a3a" style="font-family:'Liberation Sans',sans-serif">SP</text>
<text transform="translate(38.5,253.12) scale(0.88,1)" font-size="6.2" font-weight="bold" text-anchor="middle" fill="#3a3a3a" style="font-family:'Liberation Sans',sans-serif">NO₃⁻-N</text>
<text transform="translate(38.5,275.48) scale(0.88,1)" font-size="6.2" font-weight="bold" text-anchor="middle" fill="#3a3a3a" style="font-family:'Liberation Sans',sans-serif">Lignin</text>
<text transform="translate(38.5,297.83) scale(0.88,1)" font-size="6.2" font-weight="bold" text-anchor="middle" fill="#3a3a3a" style="font-family:'Liberation Sans',sans-serif">NH₄⁺-N</text>
<text transform="translate(38.5,320.18) scale(0.88,1)" font-size="6.2" font-weight="bold" text-anchor="middle" fill="#3a3a3a" style="font-family:'Liberation Sans',sans-serif">K</text>
<text transform="translate(38.5,342.53) scale(0.88,1)" font-size="6.2" font-weight="bold" text-anchor="middle" fill="#3a3a3a" style="font-family:'Liberation Sans',sans-serif">TN</text>
<text transform="translate(38.5,364.88) scale(0.88,1)" font-size="6.2" font-weight="bold" text-anchor="middle" fill="#3a3a3a" style="font-family:'Liberation Sans',sans-serif">AA-N</text>
<text transform="translate(38.5,387.23) scale(0.88,1)" font-size="6.2" font-weight="bold" text-anchor="middle" fill="#3a3a3a" style="font-family:'Liberation Sans',sans-serif">TP</text>
<defs><linearGradient id="cb" x1="0" y1="0" x2="0" y2="1"><stop offset="0" stop-color="#ff0000"/><stop offset="0.5" stop-color="#ffffff"/><stop offset="1" stop-color="#0000ff"/></linearGradient></defs>
<rect x="232.6" y="217.2" width="5.9" height="178.4" fill="url(#cb)" stroke="#777" stroke-width="0.6"/>
<line x1="238.5" y1="217.0" x2="240" y2="217.0" stroke="#666" stroke-width="0.4"/>
<text x="243" y="219.1" font-size="4" font-weight="bold" fill="#555" style="font-family:'Liberation Sans',sans-serif">1</text>
<line x1="238.5" y1="234.9" x2="240" y2="234.9" stroke="#666" stroke-width="0.4"/>
<text x="243" y="237.0" font-size="4" font-weight="bold" fill="#555" style="font-family:'Liberation Sans',sans-serif">0.8</text>
<line x1="238.5" y1="252.7" x2="240" y2="252.7" stroke="#666" stroke-width="0.4"/>
<text x="243" y="254.8" font-size="4" font-weight="bold" fill="#555" style="font-family:'Liberation Sans',sans-serif">0.6</text>
<line x1="238.5" y1="270.6" x2="240" y2="270.6" stroke="#666" stroke-width="0.4"/>
<text x="243" y="272.7" font-size="4" font-weight="bold" fill="#555" style="font-family:'Liberation Sans',sans-serif">0.4</text>
<line x1="238.5" y1="288.4" x2="240" y2="288.4" stroke="#666" stroke-width="0.4"/>
<text x="243" y="290.5" font-size="4" font-weight="bold" fill="#555" style="font-family:'Liberation Sans',sans-serif">0.2</text>
<line x1="238.5" y1="306.3" x2="240" y2="306.3" stroke="#666" stroke-width="0.4"/>
<text x="243" y="308.4" font-size="4" font-weight="bold" fill="#555" style="font-family:'Liberation Sans',sans-serif">0</text>
<line x1="238.5" y1="324.2" x2="240" y2="324.2" stroke="#666" stroke-width="0.4"/>
<text x="243" y="326.3" font-size="4" font-weight="bold" fill="#555" style="font-family:'Liberation Sans',sans-serif">-0.2</text>
<line x1="238.5" y1="342.0" x2="240" y2="342.0" stroke="#666" stroke-width="0.4"/>
<text x="243" y="344.1" font-size="4" font-weight="bold" fill="#555" style="font-family:'Liberation Sans',sans-serif">-0.4</text>
<line x1="238.5" y1="359.9" x2="240" y2="359.9" stroke="#666" stroke-width="0.4"/>
<text x="243" y="362.0" font-size="4" font-weight="bold" fill="#555" style="font-family:'Liberation Sans',sans-serif">-0.6</text>
<line x1="238.5" y1="377.7" x2="240" y2="377.7" stroke="#666" stroke-width="0.4"/>
<text x="243" y="379.8" font-size="4" font-weight="bold" fill="#555" style="font-family:'Liberation Sans',sans-serif">-0.8</text>
<line x1="238.5" y1="395.6" x2="240" y2="395.6" stroke="#666" stroke-width="0.4"/>
<text x="243" y="397.7" font-size="4" font-weight="bold" fill="#555" style="font-family:'Liberation Sans',sans-serif">-1</text>
</g>
<g id="D">
<path d="M292.6,220.4 V381.4 H542.4" fill="none" stroke="#000" stroke-width="2"/>
<line x1="289" y1="381.4" x2="292.4" y2="381.4" stroke="#000" stroke-width="1.5"/>
<text transform="translate(287.4,384.00) scale(0.9,1)" font-size="9.4" font-weight="bold" text-anchor="end" fill="#111" style="font-family:'Liberation Sans',sans-serif">0</text>
<line x1="289" y1="341.2" x2="292.4" y2="341.2" stroke="#000" stroke-width="1.5"/>
<text transform="translate(287.4,343.80) scale(0.9,1)" font-size="9.4" font-weight="bold" text-anchor="end" fill="#111" style="font-family:'Liberation Sans',sans-serif">20</text>
<line x1="289" y1="301.0" x2="292.4" y2="301.0" stroke="#000" stroke-width="1.5"/>
<text transform="translate(287.4,303.60) scale(0.9,1)" font-size="9.4" font-weight="bold" text-anchor="end" fill="#111" style="font-family:'Liberation Sans',sans-serif">40</text>
<line x1="289" y1="260.8" x2="292.4" y2="260.8" stroke="#000" stroke-width="1.5"/>
<text transform="translate(287.4,263.40) scale(0.9,1)" font-size="9.4" font-weight="bold" text-anchor="end" fill="#111" style="font-family:'Liberation Sans',sans-serif">60</text>
<line x1="289" y1="220.6" x2="292.4" y2="220.6" stroke="#000" stroke-width="1.5"/>
<text transform="translate(287.4,223.20) scale(0.9,1)" font-size="9.4" font-weight="bold" text-anchor="end" fill="#111" style="font-family:'Liberation Sans',sans-serif">80</text>
<line x1="310.4" y1="381.4" x2="310.4" y2="385.4" stroke="#000" stroke-width="1.5"/>
<line x1="346.1" y1="381.4" x2="346.1" y2="385.4" stroke="#000" stroke-width="1.5"/>
<line x1="381.8" y1="381.4" x2="381.8" y2="385.4" stroke="#000" stroke-width="1.5"/>
<line x1="417.5" y1="381.4" x2="417.5" y2="385.4" stroke="#000" stroke-width="1.5"/>
<line x1="453.2" y1="381.4" x2="453.2" y2="385.4" stroke="#000" stroke-width="1.5"/>
<line x1="488.9" y1="381.4" x2="488.9" y2="385.4" stroke="#000" stroke-width="1.5"/>
<line x1="524.6" y1="381.4" x2="524.6" y2="385.4" stroke="#000" stroke-width="1.5"/>
<text x="310.4" y="394.9" font-size="9.2" font-weight="bold" text-anchor="middle" fill="#111" style="font-family:'Liberation Sans',sans-serif">NO<tspan font-size="6" dy="3">3</tspan><tspan font-size="6" dy="-6">-</tspan><tspan dy="3">-N</tspan></text>
<text x="346.1" y="394.9" font-size="9.2" font-weight="bold" text-anchor="middle" fill="#111" style="font-family:'Liberation Sans',sans-serif">SP</text>
<text x="381.8" y="394.9" font-size="9.2" font-weight="bold" text-anchor="middle" fill="#111" style="font-family:'Liberation Sans',sans-serif">TP</text>
<text x="417.5" y="394.9" font-size="9.2" font-weight="bold" text-anchor="middle" fill="#111" style="font-family:'Liberation Sans',sans-serif">TN</text>
<text x="453.2" y="394.9" font-size="9.2" font-weight="bold" text-anchor="middle" fill="#111" style="font-family:'Liberation Sans',sans-serif">K</text>
<text x="488.9" y="394.9" font-size="9.2" font-weight="bold" text-anchor="middle" fill="#111" style="font-family:'Liberation Sans',sans-serif">NH<tspan font-size="6" dy="3">4</tspan><tspan font-size="6" dy="-6">+</tspan><tspan dy="3">-N</tspan></text>
<text x="524.6" y="394.9" font-size="9.2" font-weight="bold" text-anchor="middle" fill="#111" style="font-family:'Liberation Sans',sans-serif">AA-N</text>
<path d="M306.8,256.8 L310.4,253.2 L314.0,256.8 Z" fill="#000"/><path d="M307.8,256.8 L310.4,259.0 L313.0,256.8 Z" fill="#fff" stroke="#000" stroke-width="1.4"/>
<path d="M307.4,255.2 L313.4,255.2 L310.4,261.2 Z" fill="#fff" stroke="#000" stroke-width="1.3"/>
<circle cx="310.4" cy="240.7" r="3.4" fill="#000"/>
<path d="M342.5,338.0 L346.1,334.4 L349.7,338.0 Z" fill="#000"/><path d="M343.5,338.0 L346.1,340.2 L348.7,338.0 Z" fill="#fff" stroke="#000" stroke-width="1.4"/>
<path d="M343.1,333.6 L349.1,333.6 L346.1,339.6 Z" fill="#fff" stroke="#000" stroke-width="1.3"/>
<circle cx="346.1" cy="343.8" r="3.4" fill="#000"/>
<path d="M378.2,379.4 L381.8,375.8 L385.4,379.4 Z" fill="#000"/><path d="M379.2,379.4 L381.8,381.6 L384.4,379.4 Z" fill="#fff" stroke="#000" stroke-width="1.4"/>
<path d="M378.8,375.6 L384.8,375.6 L381.8,381.6 Z" fill="#fff" stroke="#000" stroke-width="1.3"/>
<circle cx="381.8" cy="377.8" r="3.4" fill="#000"/>
<path d="M413.9,365.3 L417.5,361.7 L421.1,365.3 Z" fill="#000"/><path d="M414.9,365.3 L417.5,367.5 L420.1,365.3 Z" fill="#fff" stroke="#000" stroke-width="1.4"/>
<path d="M414.5,357.9 L420.5,357.9 L417.5,363.9 Z" fill="#fff" stroke="#000" stroke-width="1.3"/>
<circle cx="417.5" cy="374.4" r="3.4" fill="#000"/>
<path d="M449.6,369.3 L453.2,365.7 L456.8,369.3 Z" fill="#000"/><path d="M450.6,369.3 L453.2,371.5 L455.8,369.3 Z" fill="#fff" stroke="#000" stroke-width="1.4"/>
<path d="M450.2,371.0 L456.2,371.0 L453.2,377.0 Z" fill="#fff" stroke="#000" stroke-width="1.3"/>
<circle cx="453.2" cy="381.4" r="3.4" fill="#000"/>
<path d="M485.3,377.8 L488.9,374.2 L492.5,377.8 Z" fill="#000"/><path d="M486.3,377.8 L488.9,380.0 L491.5,377.8 Z" fill="#fff" stroke="#000" stroke-width="1.4"/>
<path d="M485.9,376.6 L491.9,376.6 L488.9,382.6 Z" fill="#fff" stroke="#000" stroke-width="1.3"/>
<circle cx="488.9" cy="370.9" r="3.4" fill="#000"/>
<path d="M521.0,379.4 L524.6,375.8 L528.2,379.4 Z" fill="#000"/><path d="M522.0,379.4 L524.6,381.6 L527.2,379.4 Z" fill="#fff" stroke="#000" stroke-width="1.4"/>
<path d="M521.6,375.0 L527.6,375.0 L524.6,381.0 Z" fill="#fff" stroke="#000" stroke-width="1.3"/>
<circle cx="524.6" cy="380.2" r="3.4" fill="#000"/>
<circle cx="445.4" cy="241.1" r="3.4" fill="#000"/>
<path d="M441.6,253.8 L445.4,250.0 L449.2,253.8 Z" fill="#000"/><path d="M442.6,253.8 L445.4,256.2 L448.2,253.8 Z" fill="#fff" stroke="#000" stroke-width="1.4"/>
<path d="M442.3,263.8 L448.5,263.8 L445.4,270.0 Z" fill="#fff" stroke="#000" stroke-width="1.3"/>
<text x="455.7" y="243.9" font-size="8.2" fill="#111" textLength="69.7" lengthAdjust="spacingAndGlyphs" style="font-family:'Liberation Sans',sans-serif">XGBoost regression</text>
<text x="455.7" y="256.6" font-size="8.2" fill="#111" textLength="82.7" lengthAdjust="spacingAndGlyphs" style="font-family:'Liberation Sans',sans-serif">Decision tree regression</text>
<text x="455.7" y="269.2" font-size="8.2" fill="#111" textLength="59.8" lengthAdjust="spacingAndGlyphs" style="font-family:'Liberation Sans',sans-serif">GBDT regression</text>
<text transform="translate(271.8,299.9) rotate(-90)" font-size="8.9" font-weight="bold" text-anchor="middle" fill="#111" style="font-family:'Liberation Sans',sans-serif">The important ratio of the feature %</text>
</g>
<text transform="translate(7.6,15.8) scale(1.05,1.1)" font-size="13.5" font-weight="bold" fill="#0a0a0a" style="font-family:'Liberation Sans',sans-serif">A</text>
<text transform="translate(346.0,15.6) scale(0.9,1.08)" font-size="13.5" font-weight="bold" fill="#0a0a0a" style="font-family:'Liberation Sans',sans-serif">B</text>
<text transform="translate(8.9,204.2) scale(0.92,1.08)" font-size="13.5" font-weight="bold" fill="#0a0a0a" style="font-family:'Liberation Sans',sans-serif">C</text>
<text transform="translate(264.3,203.8) scale(0.92,1.08)" font-size="13.5" font-weight="bold" fill="#0a0a0a" style="font-family:'Liberation Sans',sans-serif">D</text>
</svg>
</body></html>
